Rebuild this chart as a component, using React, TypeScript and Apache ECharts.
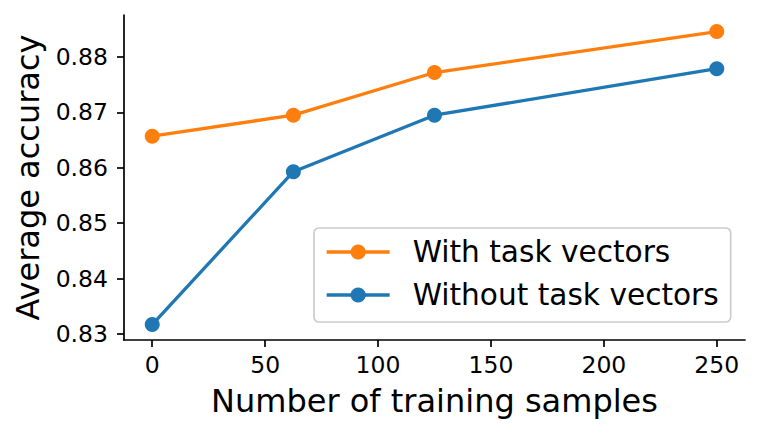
import React, { useEffect, useRef } from "react";
import * as echarts from "echarts";

const samples = [0, 62.5, 125, 250];
const withTaskVectors = [0.8657, 0.8695, 0.8772, 0.8846];
const withoutTaskVectors = [0.8317, 0.8593, 0.8695, 0.8779];
const xTicks = [0, 50, 100, 150, 200, 250];
const yTicks = [0.83, 0.84, 0.85, 0.86, 0.87, 0.88];
const seriesNames = ["With task vectors", "Without task vectors"];
const colors = ["#ff7f0e", "#1f77b4"];

const FONT = "DejaVu Sans";

export default function App() {
  const ref = useRef<HTMLDivElement>(null);
  useEffect(() => {
    if (!ref.current) return;
    const chart = echarts.init(ref.current, null, { renderer: "svg" });
    const lineData = [withTaskVectors, withoutTaskVectors];
    chart.setOption({
      animation: false,
      textStyle: { fontFamily: FONT },
      grid: { left: 124, top: 15, right: 17, bottom: 95, containLabel: false },
      xAxis: {
        type: "value",
        min: -12.5,
        max: 262.5,
        name: "Number of training samples",
        nameLocation: "middle",
        nameGap: 45,
        nameTextStyle: { fontSize: 32, color: "#000", fontFamily: FONT },
        axisLine: { show: true, onZero: false, lineStyle: { color: "#000", width: 1.7 } },
        axisTick: { show: true, length: 7, lineStyle: { color: "#000", width: 1.7 }, customValues: xTicks },
        axisLabel: { fontSize: 23.5, color: "#000", margin: 13, fontFamily: FONT, customValues: xTicks },
        splitLine: { show: false },
      },
      yAxis: {
        type: "value",
        min: 0.82892,
        max: 0.88758,
        name: "Average accuracy",
        nameLocation: "middle",
        nameRotate: 90,
        nameGap: 80,
        nameTextStyle: { fontSize: 32, color: "#000", fontFamily: FONT },
        axisLine: { show: true, onZero: false, lineStyle: { color: "#000", width: 1.7 } },
        axisTick: { show: true, length: 7, lineStyle: { color: "#000", width: 1.7 }, customValues: yTicks },
        axisLabel: {
          fontSize: 23.5,
          color: "#000",
          margin: 16,
          fontFamily: FONT,
          customValues: yTicks,
          formatter: (v: number) => v.toFixed(2),
        },
        splitLine: { show: false },
      },
      legend: {
        show: true,
        orient: "vertical",
        left: 314,
        top: 228,
        padding: [7, 12, 10, 11],
        itemGap: 9,
        itemWidth: 63,
        itemHeight: 19,
        borderColor: "#cccccc",
        borderWidth: 1.7,
        borderRadius: 5,
        backgroundColor: "rgba(255,255,255,0.8)",
        lineStyle: { width: 3.3 },
        textStyle: { fontSize: 29.6, color: "#000", fontFamily: FONT, padding: [0, 0, 0, 18], lineHeight: 34 },
        data: seriesNames,
      },
      series: seriesNames.map((name, i) => ({
        name,
        type: "line",
        data: samples.map((x, j) => [x, lineData[i][j]]),
        symbol: "circle",
        symbolSize: 15,
        showSymbol: true,
        color: colors[i],
        lineStyle: { width: 3.3, color: colors[i] },
        itemStyle: { color: colors[i] },
        z: 3 - i,
      })),
    });
    return () => chart.dispose();
  }, []);
  return (
    <div
      ref={ref}
      style={{ position: "fixed", left: 0, top: 0, width: 762, height: 435, background: "#fff" }}
    />
  );
}
